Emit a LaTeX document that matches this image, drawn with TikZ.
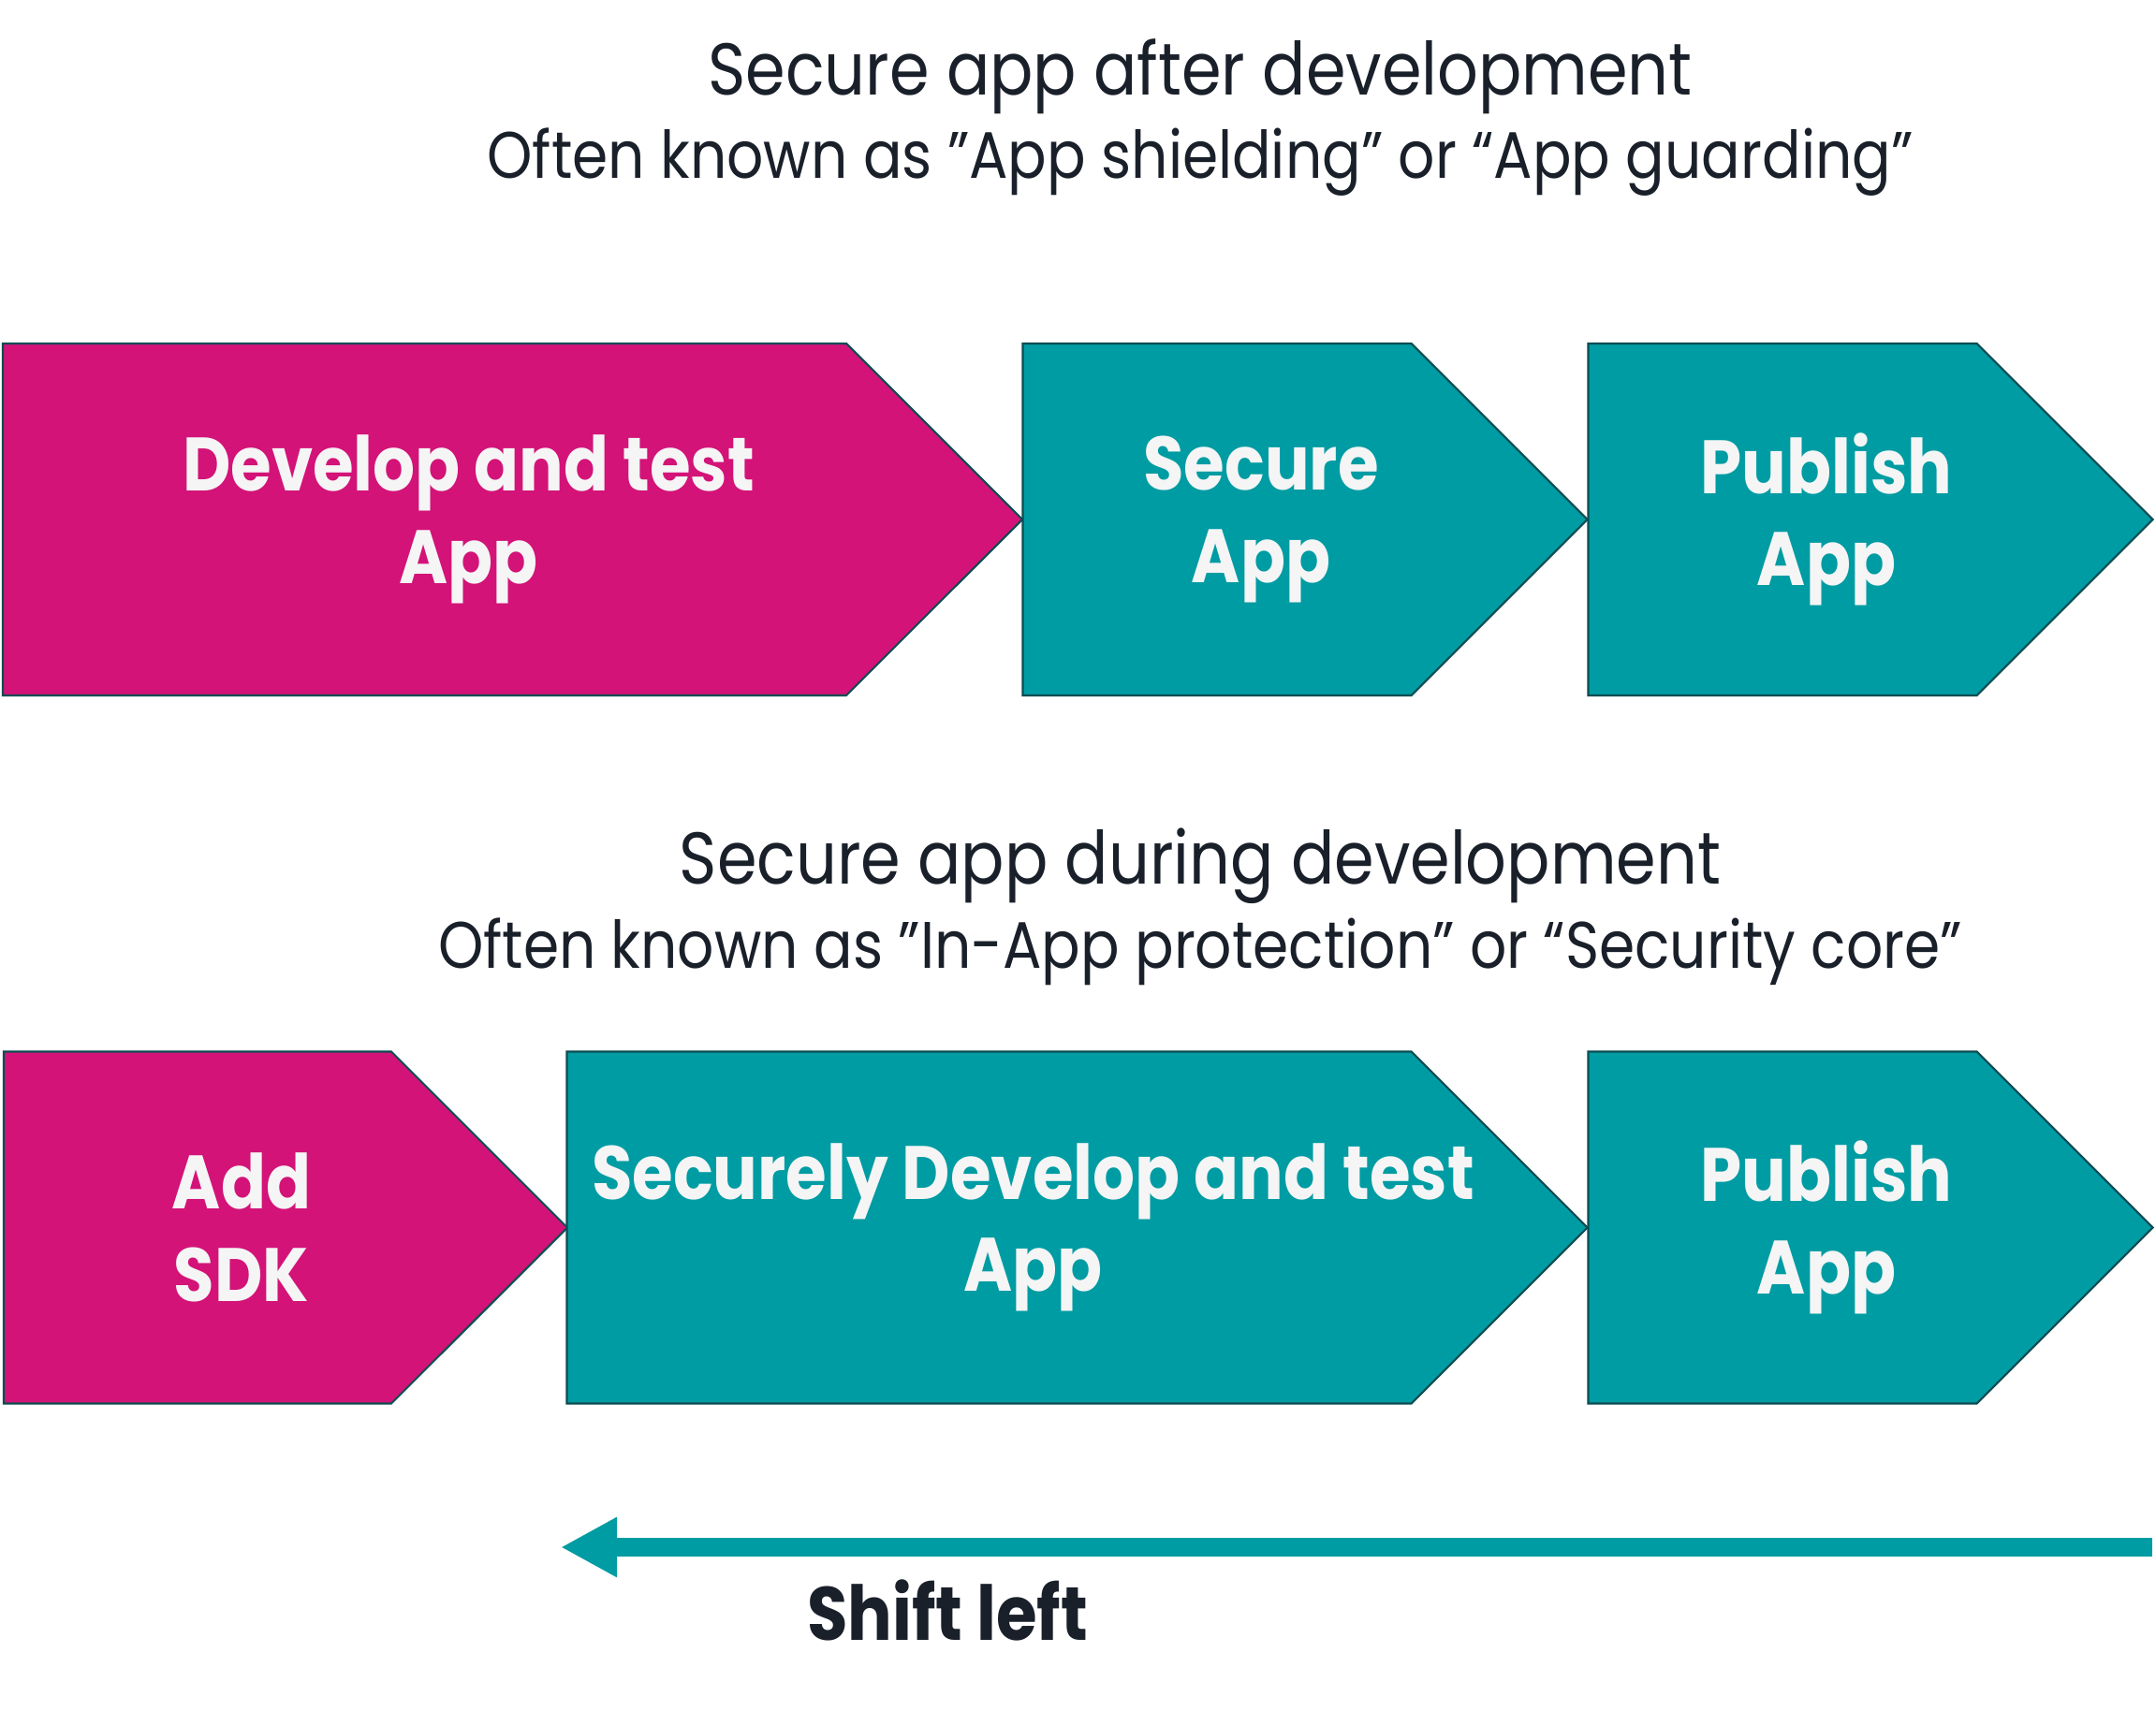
\documentclass[tikz,border=0pt]{standalone}
\usepackage{fontspec}
\setmainfont{Poppins}[FakeStretch=0.875]
\usetikzlibrary{shapes.symbols,arrows.meta}

\definecolor{pinkbox}{HTML}{D31378}
\definecolor{tealbox}{HTML}{009CA3}
\definecolor{edgeteal}{HTML}{0D4C52}
\definecolor{inkdark}{HTML}{1A202A}

\begin{document}
\begin{tikzpicture}[
    chev/.style={signal, signal to=east, signal from=nowhere,
                 signal pointer angle=90, draw=edgeteal, line width=0.6pt,
                 minimum height=3.76cm, inner sep=0pt, outer sep=0pt},
    pinkchev/.style={chev, fill=pinkbox},
    tealchev/.style={chev, fill=tealbox},
    lbl/.style={text=white!96!black, align=center,
                font=\bfseries\fontsize{23}{28}\selectfont},
    head/.style={text=inkdark, anchor=base,
                 font=\fontsize{22.3}{26}\selectfont},
    subhead/.style={text=inkdark, anchor=base,
                    font=\fontsize{20}{24}\selectfont},
    >=Stealth
]
\useasboundingbox (0,0) rectangle (23.03,-18.28);

% Titulos
\node[head]    (toptitle) at (12.82,-1.02) {Secure app after development};
\node[subhead] (topsub)   at (12.82,-1.91)
    {Often known as ”App shielding” or “App guarding”};
\node[head]    (bottitle) at (12.82,-9.45) {Secure app during development};
\node[subhead] (botsub)   at (12.82,-10.34)
    {Often known as ”In-App protection” or “Security core”};

% Fila de arriba
\node[pinkchev, minimum width=10.89cm] (dev)  at (4.535,-5.55) {};
\node[tealchev, minimum width=6.03cm]  (sec)  at (13.00,-5.55) {};
\node[tealchev, minimum width=6.03cm]  (pub)  at (19.04,-5.55) {};

\node[lbl] (devtxt) at ([xshift=4.7mm]dev.center) {Develop and test\\App};
\node[lbl] (sectxt) at ([xshift=4.7mm]sec.center) {Secure\\App};
\node[lbl] (pubtxt) at ([xshift=4.7mm]pub.center) {Publish\\App};

% Fila de abajo
\node[pinkchev, minimum width=6.02cm]  (add)  at (2.11,-13.115)   {};
\node[tealchev, minimum width=10.90cm] (sdev) at (10.565,-13.115) {};
\node[tealchev, minimum width=6.03cm]  (pub2) at (19.04,-13.115)  {};

\node[lbl] (addtxt)  at ([xshift=4.7mm]add.center)  {Add\\SDK};
\node[lbl] (sdevtxt) at ([xshift=4.7mm]sdev.center) {Securely Develop and test\\App};
\node[lbl] (pub2txt) at ([xshift=4.7mm]pub2.center) {Publish\\App};

% Flecha
\coordinate (shr) at (22.99,-16.53);
\coordinate (shl) at (5.99,-16.53);
\draw[tealbox, line width=2mm, -{Triangle[length=6mm,width=6mm]}] (shr) -- (shl);
\node[text=inkdark, anchor=base, font=\bfseries\fontsize{23}{28}\selectfont]
    (shift) at (10.12,-17.52) {Shift left};

\end{tikzpicture}
\end{document}
